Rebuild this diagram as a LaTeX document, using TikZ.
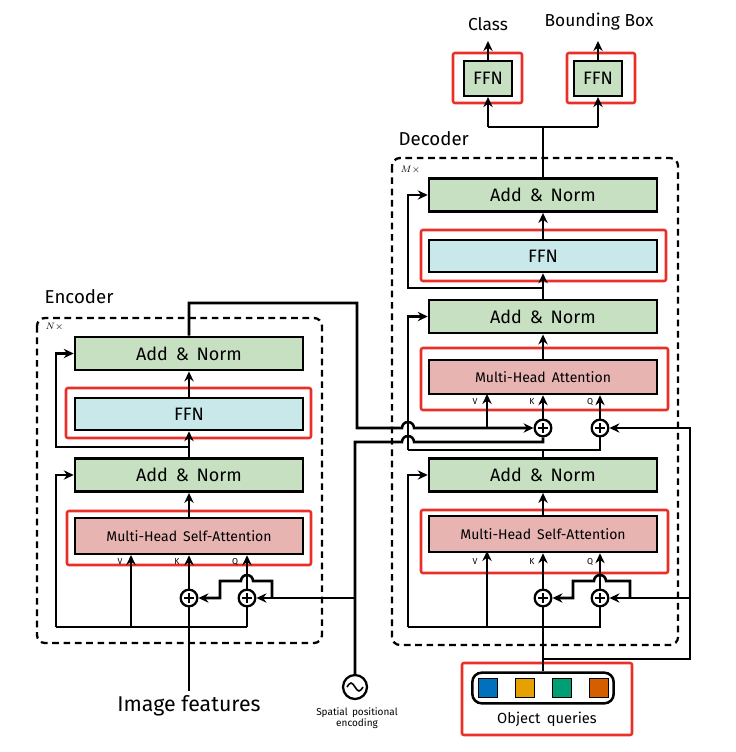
\documentclass[tikz,border=0pt]{standalone}
\usepackage{fontspec}
\setmainfont{Fira Sans}
\usetikzlibrary{arrows.meta}
\definecolor{norm}{RGB}{199,224,193}
\definecolor{ffn}{RGB}{200,232,234}
\definecolor{att}{RGB}{232,180,178}
\definecolor{frame}{RGB}{232,48,40}
\definecolor{qblue}{RGB}{0,114,189}
\definecolor{qyellow}{RGB}{230,160,0}
\definecolor{qgreen}{RGB}{0,158,115}
\definecolor{qorange}{RGB}{213,94,0}
\tikzset{
  >={Stealth[length=7.5pt,width=7pt,inset=2.5pt]},
  wire/.style={line width=1.9pt},
  blk/.style={draw, line width=1.9pt, inner sep=0pt, font=\fontsize{13.5}{15}\selectfont},
  addnorm/.style={blk, fill=norm, minimum width=171pt, minimum height=25pt},
  ffnbox/.style={blk, fill=ffn, minimum width=171pt, minimum height=24pt},
  attbox/.style={blk, fill=att, minimum width=171pt, minimum height=27pt, font=\fontsize{10.5}{12}\selectfont},
  redbox/.style={draw=frame, line width=1.9pt, rounded corners=1.5pt},
  dashbox/.style={draw, line width=1.7pt, dash pattern=on 5pt off 3.5pt, rounded corners=6pt},
  plus/.style={circle, draw, line width=1.7pt, minimum size=12.5pt, inner sep=0pt,
    path picture={\draw[line width=1.2pt] ([xshift=-3.5pt]path picture bounding box.center) -- ([xshift=3.5pt]path picture bounding box.center)
      ([yshift=-3.5pt]path picture bounding box.center) -- ([yshift=3.5pt]path picture bounding box.center);}},
  qkv/.style={font=\fontsize{6.5}{7}\selectfont, inner sep=1pt},
  title/.style={font=\fontsize{14}{16}\selectfont, anchor=west},
}
\begin{document}
\begin{tikzpicture}[x=0.75pt, y=-0.75pt]
\useasboundingbox (0,0) rectangle (735,752);

% dashed stacks
\draw[dashbox] (37,318) rectangle (322,643);
\draw[dashbox] (392,158) rectangle (678,645);
\node[font=\fontsize{7}{8}\selectfont, anchor=west] at (41,327) {$N\times$};
\node[font=\fontsize{7}{8}\selectfont, anchor=west] at (396,170) {$M\times$};
\node[title] at (40,297) {Encoder};
\node[title] at (394,139) {Decoder};

% red frames
\draw[redbox] (67,511) rectangle (311,565);
\draw[redbox] (66,388) rectangle (311,438);
\draw[redbox] (421,230) rectangle (666,281);
\draw[redbox] (421,348) rectangle (668,410);
\draw[redbox] (421,510) rectangle (668,573);
\draw[redbox] (453,53) rectangle (522,103);
\draw[redbox] (567,53) rectangle (635,103);
\draw[redbox] (462,663) rectangle (632,735);

% encoder
\node[attbox] (enMHSA) at (189,536) {Multi-Head\, Self-Attention};
\node[addnorm] (enA1) at (189,475) {Add \,\&\, Norm};
\node[ffnbox] (enFFN) at (189,414) {FFN};
\node[addnorm] (enA2) at (189,353.5) {Add \,\&\, Norm};
\node[plus] (enK) at (189,598) {};
\node[plus] (enQ) at (247,598) {};
\node[font=\fontsize{16}{18}\selectfont] (img) at (189,706) {Image features};
\node[circle, draw, line width=1.7pt, minimum size=18pt, inner sep=0pt] (pe) at (355,687) {};
\draw[line width=1.2pt] ([xshift=-6pt]pe.center) sin ([xshift=-3pt,yshift=3pt]pe.center) cos (pe.center) sin ([xshift=3pt,yshift=-3pt]pe.center) cos ([xshift=6pt]pe.center);
\node[font=\fontsize{7.5}{8.5}\selectfont, align=center, anchor=north] (pelbl) at (357,703) {Spatial\, positional\\encoding};

% decoder
\node[attbox] (deMHSA) at (543,534) {Multi-Head\, Self-Attention};
\node[addnorm] (deA1) at (543,475) {Add \,\&\, Norm};
\node[attbox, minimum height=25.5pt] (deMHA) at (543,377) {Multi-Head\, Attention};
\node[addnorm] (deA2) at (543,316.5) {Add \,\&\, Norm};
\node[ffnbox] (deFFN) at (543,256) {FFN};
\node[addnorm] (deA3) at (543,195) {Add \,\&\, Norm};
\node[plus] (deK1) at (543,598) {};
\node[plus] (deQ1) at (600,598) {};
\node[plus] (deK2) at (543,428) {};
\node[plus] (deQ2) at (600,428) {};
\node[blk, fill=norm, minimum width=36pt, minimum height=26pt] (ffnC) at (488,78.5) {FFN};
\node[blk, fill=norm, minimum width=36pt, minimum height=26pt] (ffnB) at (598,78.5) {FFN};
\node[font=\fontsize{13}{15}\selectfont] (cls) at (488,24) {Class};
\node[font=\fontsize{13}{15}\selectfont] (bbox) at (599,22) {Bounding Box};

% object queries
\node[draw, line width=1.9pt, rounded corners=7pt, minimum width=106pt, minimum height=23pt] (oq) at (543,688) {};
\foreach \c/\x in {qblue/488, qyellow/525, qgreen/562, qorange/599}
  \node[draw, line width=1pt, fill=\c, minimum size=14pt, inner sep=0pt] at (\x,688) {};
\node[font=\fontsize{11}{13}\selectfont] (oqlbl) at (547,719) {Object\, queries};

% qkv labels
\foreach \x/\l in {120/V, 177/K, 235/Q, 475/V, 532/K, 590/Q}
  \node[qkv] at (\x,562) {\l};
\foreach \x/\l in {475/V, 532/K, 590/Q}
  \node[qkv] at (\x,402) {\l};

% encoder wiring
\draw[wire] (img.north) -- (enK.south);
\draw[wire] (56,627) -- (247,627);
\draw[wire] (enQ.south) -- (247,627);
\draw[wire, ->] (enK.north) -- (enMHSA.south);
\draw[wire, ->] (enQ.north) -- (enQ.north |- enMHSA.south);
\draw[wire, ->] (131,627) -- (131,555);
\draw[wire, ->] (56,627) |- (enA1.west);
\draw[wire, ->] (pe.north) |- (enQ.east);
\draw[wire, ->] (272,598) -- (272,581) -- (253,581) arc (0:-180:6) -- (220,581) -- (220,598) -- (enK.east);
\draw[wire, ->] (enMHSA.north) -- (enA1.south);
\draw[wire, ->] (enA1.north) -- (enFFN.south);
\draw[wire, ->] (enFFN.north) -- (enA2.south);
\draw[wire, ->] (189,447) -| (56,400) |- (enA2.west);
\draw[wire, ->] (enA2.north) -- (189,303) -- (357,303) -- (357,428) -- (402,428) arc (180:360:6) -- (deK2.west);
\draw[wire, ->] (487,428) -- (487,394);
\draw[wire] (pe.north) -- (355,442) -- (402,442) arc (180:360:6) -- (543,442) -- (deK2.south);

% decoder wiring
\draw[wire] (oq.north) -- (deK1.south);
\draw[wire, ->] (543,659) -| (690,520) |- (deQ2.east);
\draw[wire, ->] (690,598) -- (deQ1.east);
\draw[wire, ->] (630,598) -- (630,581) -- (606,581) arc (0:-180:6) -- (573,581) -- (573,598) -- (deK1.east);
\draw[wire] (408,627) -- (600,627) -- (deQ1.south);
\draw[wire, ->] (408,627) |- (deA1.west);
\draw[wire, ->] (487,627) -- (487,551);
\draw[wire, ->] (deK1.north) -- (deK1.north |- deMHSA.south);
\draw[wire, ->] (deQ1.north) -- (deQ1.north |- deMHSA.south);
\draw[wire, ->] (deMHSA.north) -- (deA1.south);
\draw[wire] (deA1.north) -- (543,450);
\draw[wire] (408,450) -- (600,450) -- (deQ2.south);
\draw[wire, ->] (408,450) |- (deA2.west);
\draw[wire, ->] (deK2.north) -- (deK2.north |- deMHA.south);
\draw[wire, ->] (deQ2.north) -- (deQ2.north |- deMHA.south);
\draw[wire, ->] (deMHA.north) -- (deA2.south);
\draw[wire, ->] (deA2.north) -- (deFFN.south);
\draw[wire, ->] (543,288) -| (408,250) |- (deA3.west);
\draw[wire, ->] (deFFN.north) -- (deA3.south);
\draw[wire] (deA3.north) -- (543,127);
\draw[wire, ->] (488,127) -- (ffnC.south);
\draw[wire] (488,127) -- (598,127);
\draw[wire, ->] (598,127) -- (ffnB.south);
\draw[wire, ->] (ffnC.north) -- (488,41);
\draw[wire, ->] (ffnB.north) -- (598,41);
\end{tikzpicture}
\end{document}
